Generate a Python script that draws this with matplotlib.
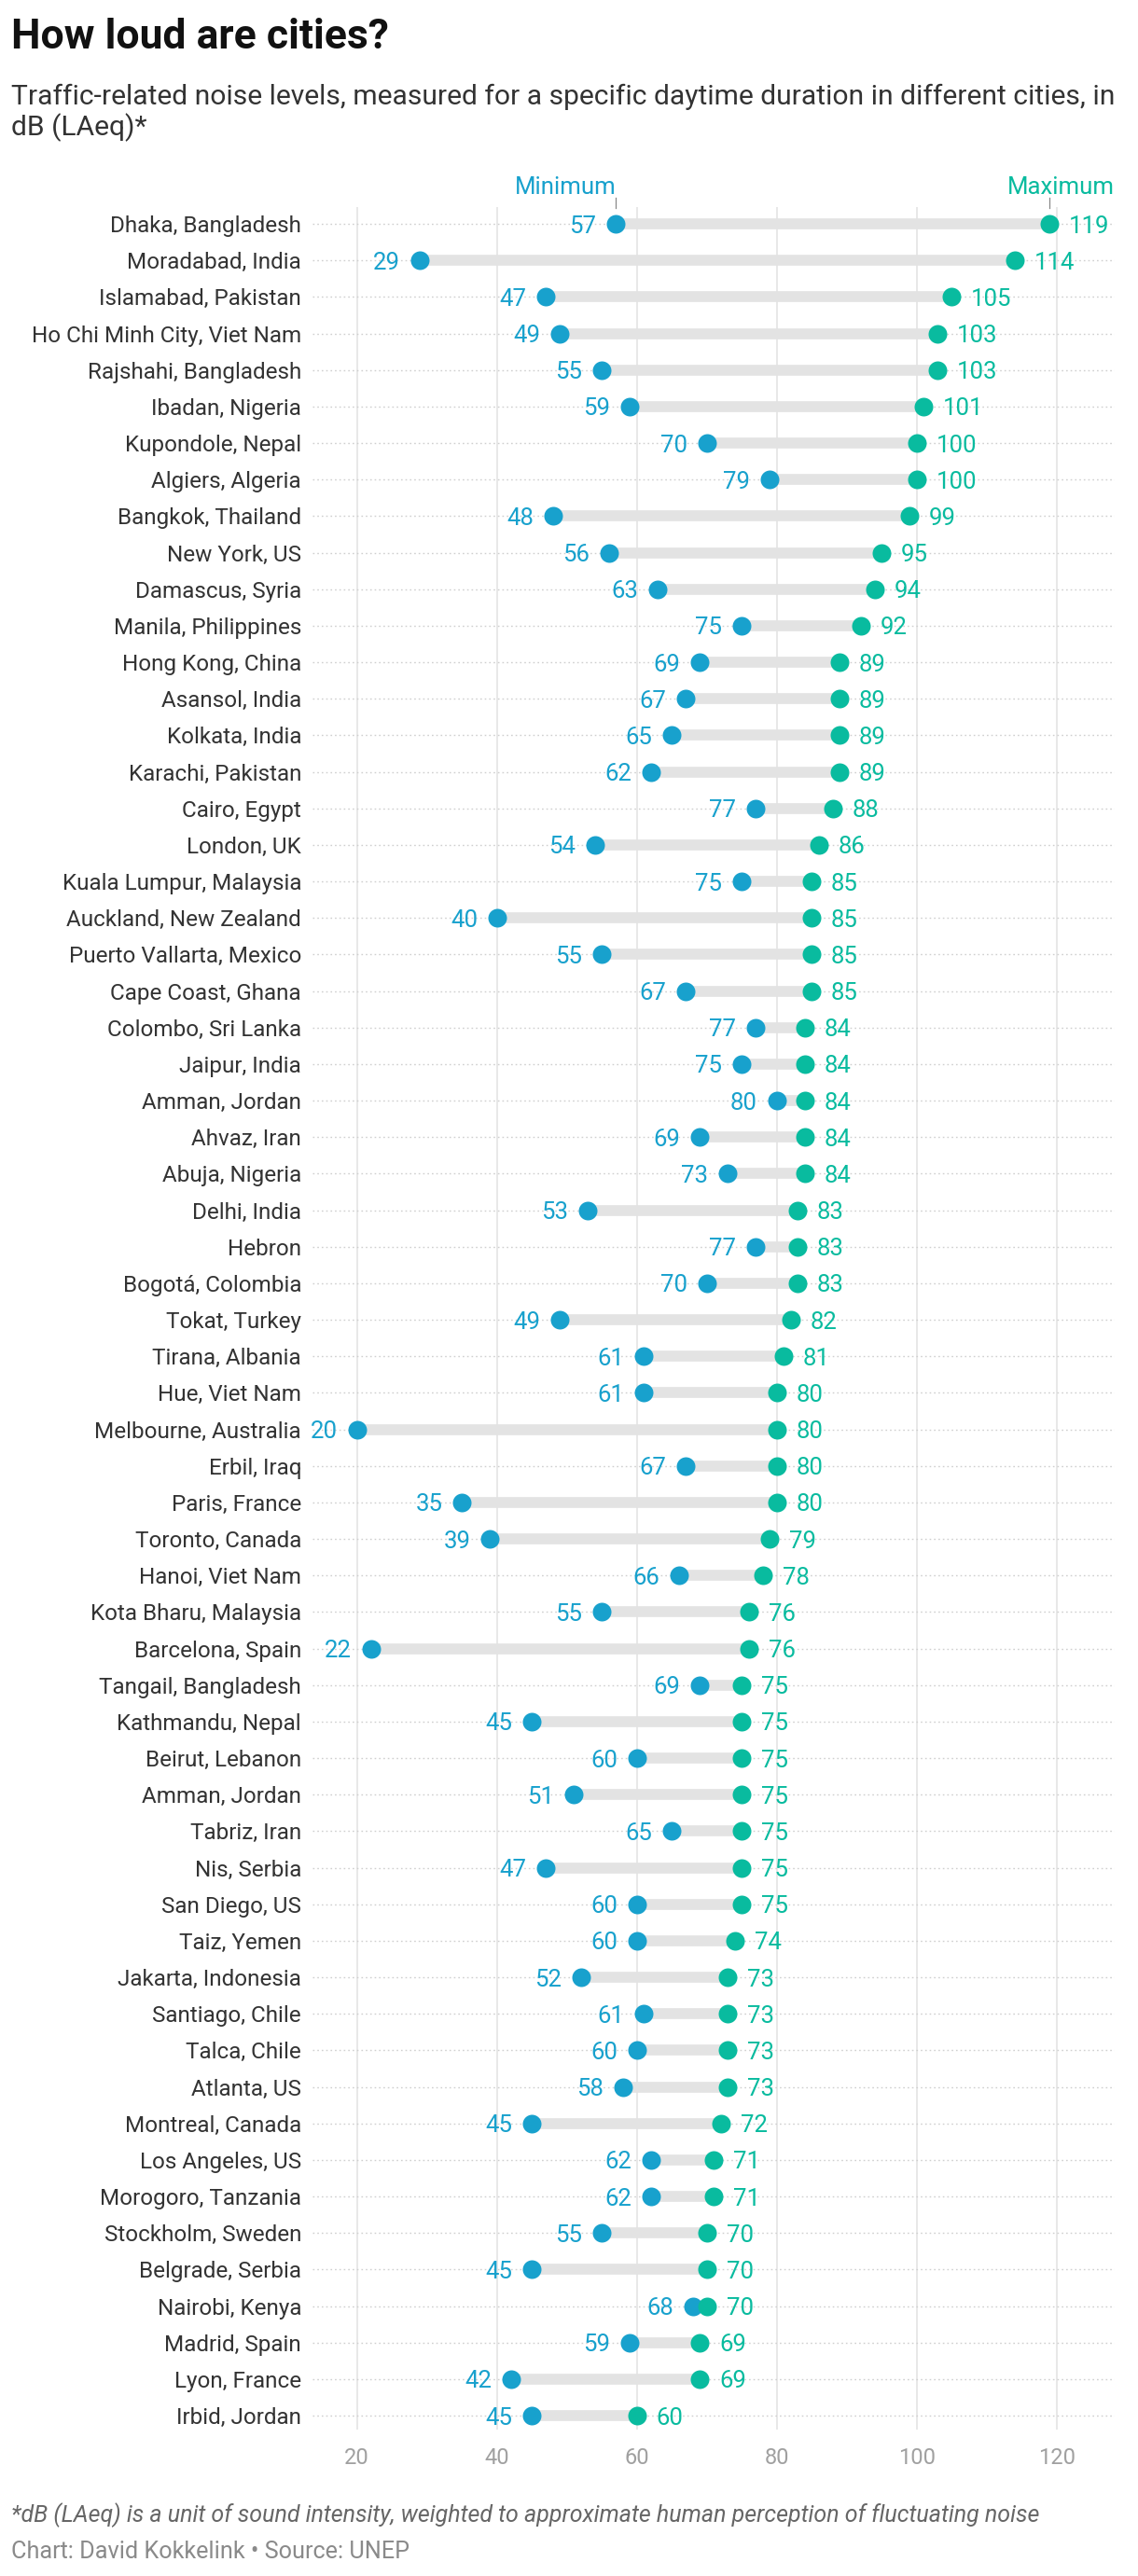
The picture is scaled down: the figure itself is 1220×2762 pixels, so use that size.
import matplotlib
matplotlib.use("Agg")
import matplotlib.pyplot as plt
from matplotlib.transforms import blended_transform_factory

plt.rcParams['font.family'] = ['Roboto', 'DejaVu Sans']

cities = [
    "Dhaka, Bangladesh", "Moradabad, India", "Islamabad, Pakistan", "Ho Chi Minh City, Viet Nam",
    "Rajshahi, Bangladesh", "Ibadan, Nigeria", "Kupondole, Nepal", "Algiers, Algeria",
    "Bangkok, Thailand", "New York, US", "Damascus, Syria", "Manila, Philippines",
    "Hong Kong, China", "Asansol, India", "Kolkata, India", "Karachi, Pakistan",
    "Cairo, Egypt", "London, UK", "Kuala Lumpur, Malaysia", "Auckland, New Zealand",
    "Puerto Vallarta, Mexico", "Cape Coast, Ghana", "Colombo, Sri Lanka", "Jaipur, India",
    "Amman, Jordan", "Ahvaz, Iran", "Abuja, Nigeria", "Delhi, India", "Hebron",
    "Bogotá, Colombia", "Tokat, Turkey", "Tirana, Albania", "Hue, Viet Nam",
    "Melbourne, Australia", "Erbil, Iraq", "Paris, France", "Toronto, Canada",
    "Hanoi, Viet Nam", "Kota Bharu, Malaysia", "Barcelona, Spain", "Tangail, Bangladesh",
    "Kathmandu, Nepal", "Beirut, Lebanon", "Amman, Jordan", "Tabriz, Iran", "Nis, Serbia",
    "San Diego, US", "Taiz, Yemen", "Jakarta, Indonesia", "Santiago, Chile", "Talca, Chile",
    "Atlanta, US", "Montreal, Canada", "Los Angeles, US", "Morogoro, Tanzania",
    "Stockholm, Sweden", "Belgrade, Serbia", "Nairobi, Kenya", "Madrid, Spain",
    "Lyon, France", "Irbid, Jordan",
]
minimum = [57, 29, 47, 49, 55, 59, 70, 79, 48, 56, 63, 75, 69, 67, 65, 62, 77, 54, 75, 40,
           55, 67, 77, 75, 80, 69, 73, 53, 77, 70, 49, 61, 61, 20, 67, 35, 39, 66, 55, 22,
           69, 45, 60, 51, 65, 47, 60, 60, 52, 61, 60, 58, 45, 62, 62, 55, 45, 68, 59, 42, 45]
maximum = [119, 114, 105, 103, 103, 101, 100, 100, 99, 95, 94, 92, 89, 89, 89, 89, 88, 86,
           85, 85, 85, 85, 84, 84, 84, 84, 84, 83, 83, 83, 82, 81, 80, 80, 80, 80, 79, 78,
           76, 76, 75, 75, 75, 75, 75, 75, 75, 74, 73, 73, 73, 73, 72, 71, 71, 70, 70, 70,
           69, 69, 60]
xticks = [20, 40, 60, 80, 100, 120]

BLUE = "#18a1cd"
GREEN = "#09bb9f"

W, H = 1220, 2762
fig = plt.figure(figsize=(W / 100, H / 100), dpi=100)

ax_left, ax_right = 335, 1195
ax_top, ax_bottom = 222, 2605
ax = fig.add_axes([ax_left / W, 1 - ax_bottom / H, (ax_right - ax_left) / W, (ax_bottom - ax_top) / H])

n = len(cities)
ypos = list(range(n))

ax.set_xlim(13.64, 128.3)
ax.set_ylim(n - 1 + 0.38, -0.46)

for x in xticks:
    ax.axvline(x, color="#e2e2e2", lw=1.1, zorder=0)
for y in ypos:
    ax.axhline(y, color="#cfcfcf", lw=1.0, ls=(0, (1.2, 2.2)), zorder=1)

ax.hlines(ypos, minimum, maximum, color="#e3e3e3", lw=8.4, zorder=2, capstyle="butt")
ax.plot(minimum, ypos, "o", color=BLUE, ms=14.4, mec="none", zorder=3)
ax.plot(maximum, ypos, "o", color=GREEN, ms=14.4, mec="none", zorder=3)

for y, lo, hi in zip(ypos, minimum, maximum):
    ax.annotate(str(lo), (lo, y), xytext=(-15, 0), textcoords="offset points",
                ha="right", va="center_baseline", color=BLUE, fontsize=18.5)
    ax.annotate(str(hi), (hi, y), xytext=(15, 0), textcoords="offset points",
                ha="left", va="center_baseline", color=GREEN, fontsize=18.5)

# header labels
ax.plot([minimum[0], minimum[0]], [-0.715, -0.434], color="#888888", lw=0.9, clip_on=False)
ax.plot([maximum[0], maximum[0]], [-0.715, -0.434], color="#888888", lw=0.9, clip_on=False)
ax.text(minimum[0], -0.817, "Minimum", ha="right", va="baseline", color=BLUE, fontsize=18.5)
trans = blended_transform_factory(ax.transAxes, ax.transData)
ax.text(1.0, -0.817, "Maximum", ha="right", va="baseline", color=GREEN, fontsize=18.5,
        transform=trans)

ax.set_yticks(ypos)
ax.set_yticklabels(cities, fontsize=17.5, color="#333333")
ax.set_xticks(xticks)
ax.set_xticklabels([str(t) for t in xticks], fontsize=17, color="#a0a0a0")
ax.tick_params(axis="y", length=0, pad=8.6)
ax.tick_params(axis="x", length=0, pad=14)
for s in ax.spines.values():
    s.set_visible(False)

fig.text(12 / W, 1 - 52 / H, "How loud are cities?", fontsize=32, fontweight="bold",
         color="#111111", ha="left", va="baseline")
fig.text(12 / W, 1 - 112 / H,
         "Traffic-related noise levels, measured for a specific daytime duration in different cities, in",
         fontsize=21.6, color="#333333", ha="left", va="baseline")
fig.text(12 / W, 1 - 145 / H, "dB (LAeq)*", fontsize=21.6, color="#333333", ha="left", va="baseline")
fig.text(12 / W, 1 - 2704 / H,
         "*dB (LAeq) is a unit of sound intensity, weighted to approximate human perception of fluctuating noise",
         fontsize=18.0, style="italic", color="#666666", ha="left", va="baseline")
fig.text(12 / W, 1 - 2743 / H, "Chart: David Kokkelink • Source: UNEP",
         fontsize=18.2, color="#8a8a8a", ha="left", va="baseline")

fig.savefig("out.png", dpi=100, facecolor="white")
